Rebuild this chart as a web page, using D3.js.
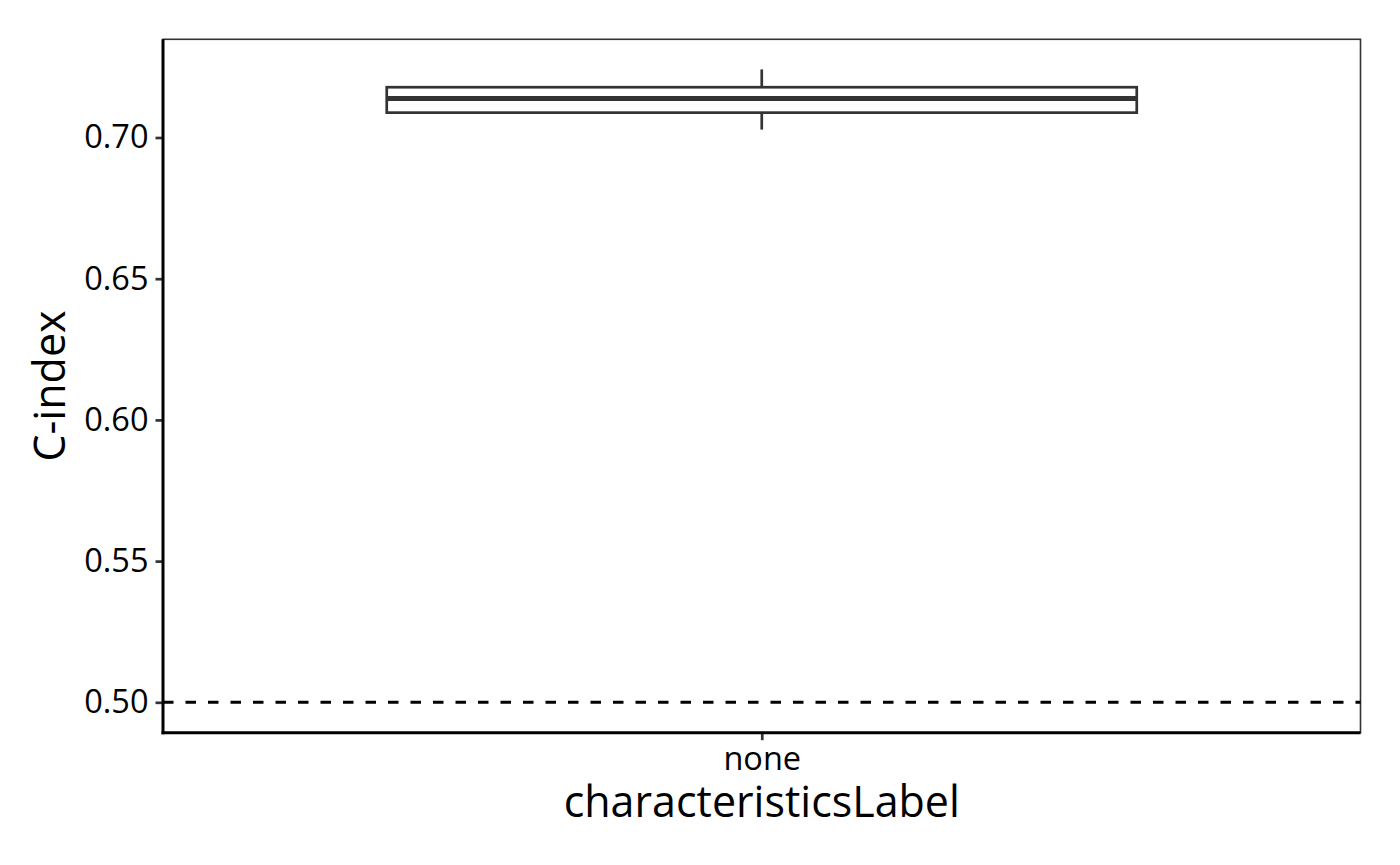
<!DOCTYPE html>
<html>
<head>
<meta charset="utf-8">
<script src="https://cdn.jsdelivr.net/npm/d3@7"></script>
<style>
  body { margin: 0; background: #fff; }
  svg { display: block; }
  svg text { font-family: 'Open Sans', 'Noto Sans', sans-serif; }
</style>
</head>
<body>
<svg id="chart"></svg>
<script>
// data
const categories = ['none'];
const whiskerLow = [0.7028];
const q1 = [0.7088];
const medians = [0.7138];
const q3 = [0.7178];
const whiskerHigh = [0.7241];
const yTicks = [0.50, 0.55, 0.60, 0.65, 0.70];
const refLine = 0.5;

const W = 1400, H = 865;
const margin = {top: 39.3, left: 163};
const innerW = 1197.5;
const innerH = 693.4;

const svg = d3.select('#chart').attr('width', W).attr('height', H);
const g = svg.append('g').attr('transform', `translate(${margin.left},${margin.top})`);

const y = d3.scaleLinear().domain([0.48924, 0.73477]).range([innerH, 0]);
// single discrete category sits in the middle of the panel
const x = d3.scalePoint().domain(categories).range([0, innerW]).padding(0.5);
const boxW = 750;

// panel border (thin, grey)
g.append('rect')
    .attr('width', innerW).attr('height', innerH)
    .attr('fill', 'none').attr('stroke', '#333').attr('stroke-width', 1.6);

// reference line
g.append('line')
    .attr('x1', 0).attr('x2', innerW)
    .attr('y1', y(refLine)).attr('y2', y(refLine))
    .attr('stroke', '#000').attr('stroke-width', 3)
    .attr('stroke-dasharray', '10.5,12');

// boxes
const boxes = g.selectAll('g.box').data(categories).enter().append('g').attr('class', 'box');
boxes.append('line')
    .attr('x1', d => x(d)).attr('x2', d => x(d))
    .attr('y1', (d, i) => y(whiskerHigh[i])).attr('y2', (d, i) => y(q3[i]))
    .attr('stroke', '#333').attr('stroke-width', 2.7);
boxes.append('line')
    .attr('x1', d => x(d)).attr('x2', d => x(d))
    .attr('y1', (d, i) => y(q1[i])).attr('y2', (d, i) => y(whiskerLow[i]))
    .attr('stroke', '#333').attr('stroke-width', 2.7);
boxes.append('rect')
    .attr('x', d => x(d) - boxW / 2).attr('width', boxW)
    .attr('y', (d, i) => y(q3[i])).attr('height', (d, i) => y(q1[i]) - y(q3[i]))
    .attr('fill', '#fff').attr('stroke', '#333').attr('stroke-width', 2.7);
boxes.append('line')
    .attr('x1', d => x(d) - boxW / 2).attr('x2', d => x(d) + boxW / 2)
    .attr('y1', (d, i) => y(medians[i])).attr('y2', (d, i) => y(medians[i]))
    .attr('stroke', '#333').attr('stroke-width', 5);

// axes
const yAxis = g.append('g')
    .call(d3.axisLeft(y).tickValues(yTicks).tickFormat(d3.format('.2f')).tickSize(7.5).tickPadding(7));
const xAxis = g.append('g').attr('transform', `translate(0,${innerH})`)
    .call(d3.axisBottom(x).tickSize(7.5));
[yAxis, xAxis].forEach(a => {
    a.attr('font-family', null).attr('font-size', null);
    a.select('.domain').remove();
    a.selectAll('.tick line').attr('stroke', '#333').attr('stroke-width', 2.7);
    a.selectAll('.tick text').attr('fill', '#000').style('font-size', '32.5px');
});
xAxis.selectAll('.tick text').attr('y', 37).attr('dy', 0);

// thick axis lines
g.append('line').attr('x1', 0).attr('x2', 0).attr('y1', 0).attr('y2', innerH + 1.5)
    .attr('stroke', '#000').attr('stroke-width', 3);
g.append('line').attr('x1', -1.5).attr('x2', innerW).attr('y1', innerH).attr('y2', innerH)
    .attr('stroke', '#000').attr('stroke-width', 3);

// titles
svg.append('text')
    .attr('x', margin.left + innerW / 2).attr('y', 817)
    .attr('text-anchor', 'middle').style('font-size', '43px')
    .text('characteristicsLabel');
svg.append('text')
    .attr('transform', `translate(65,${margin.top + innerH / 2}) rotate(-90)`)
    .attr('text-anchor', 'middle').style('font-size', '43px')
    .text('C-index');
</script>
</body>
</html>
